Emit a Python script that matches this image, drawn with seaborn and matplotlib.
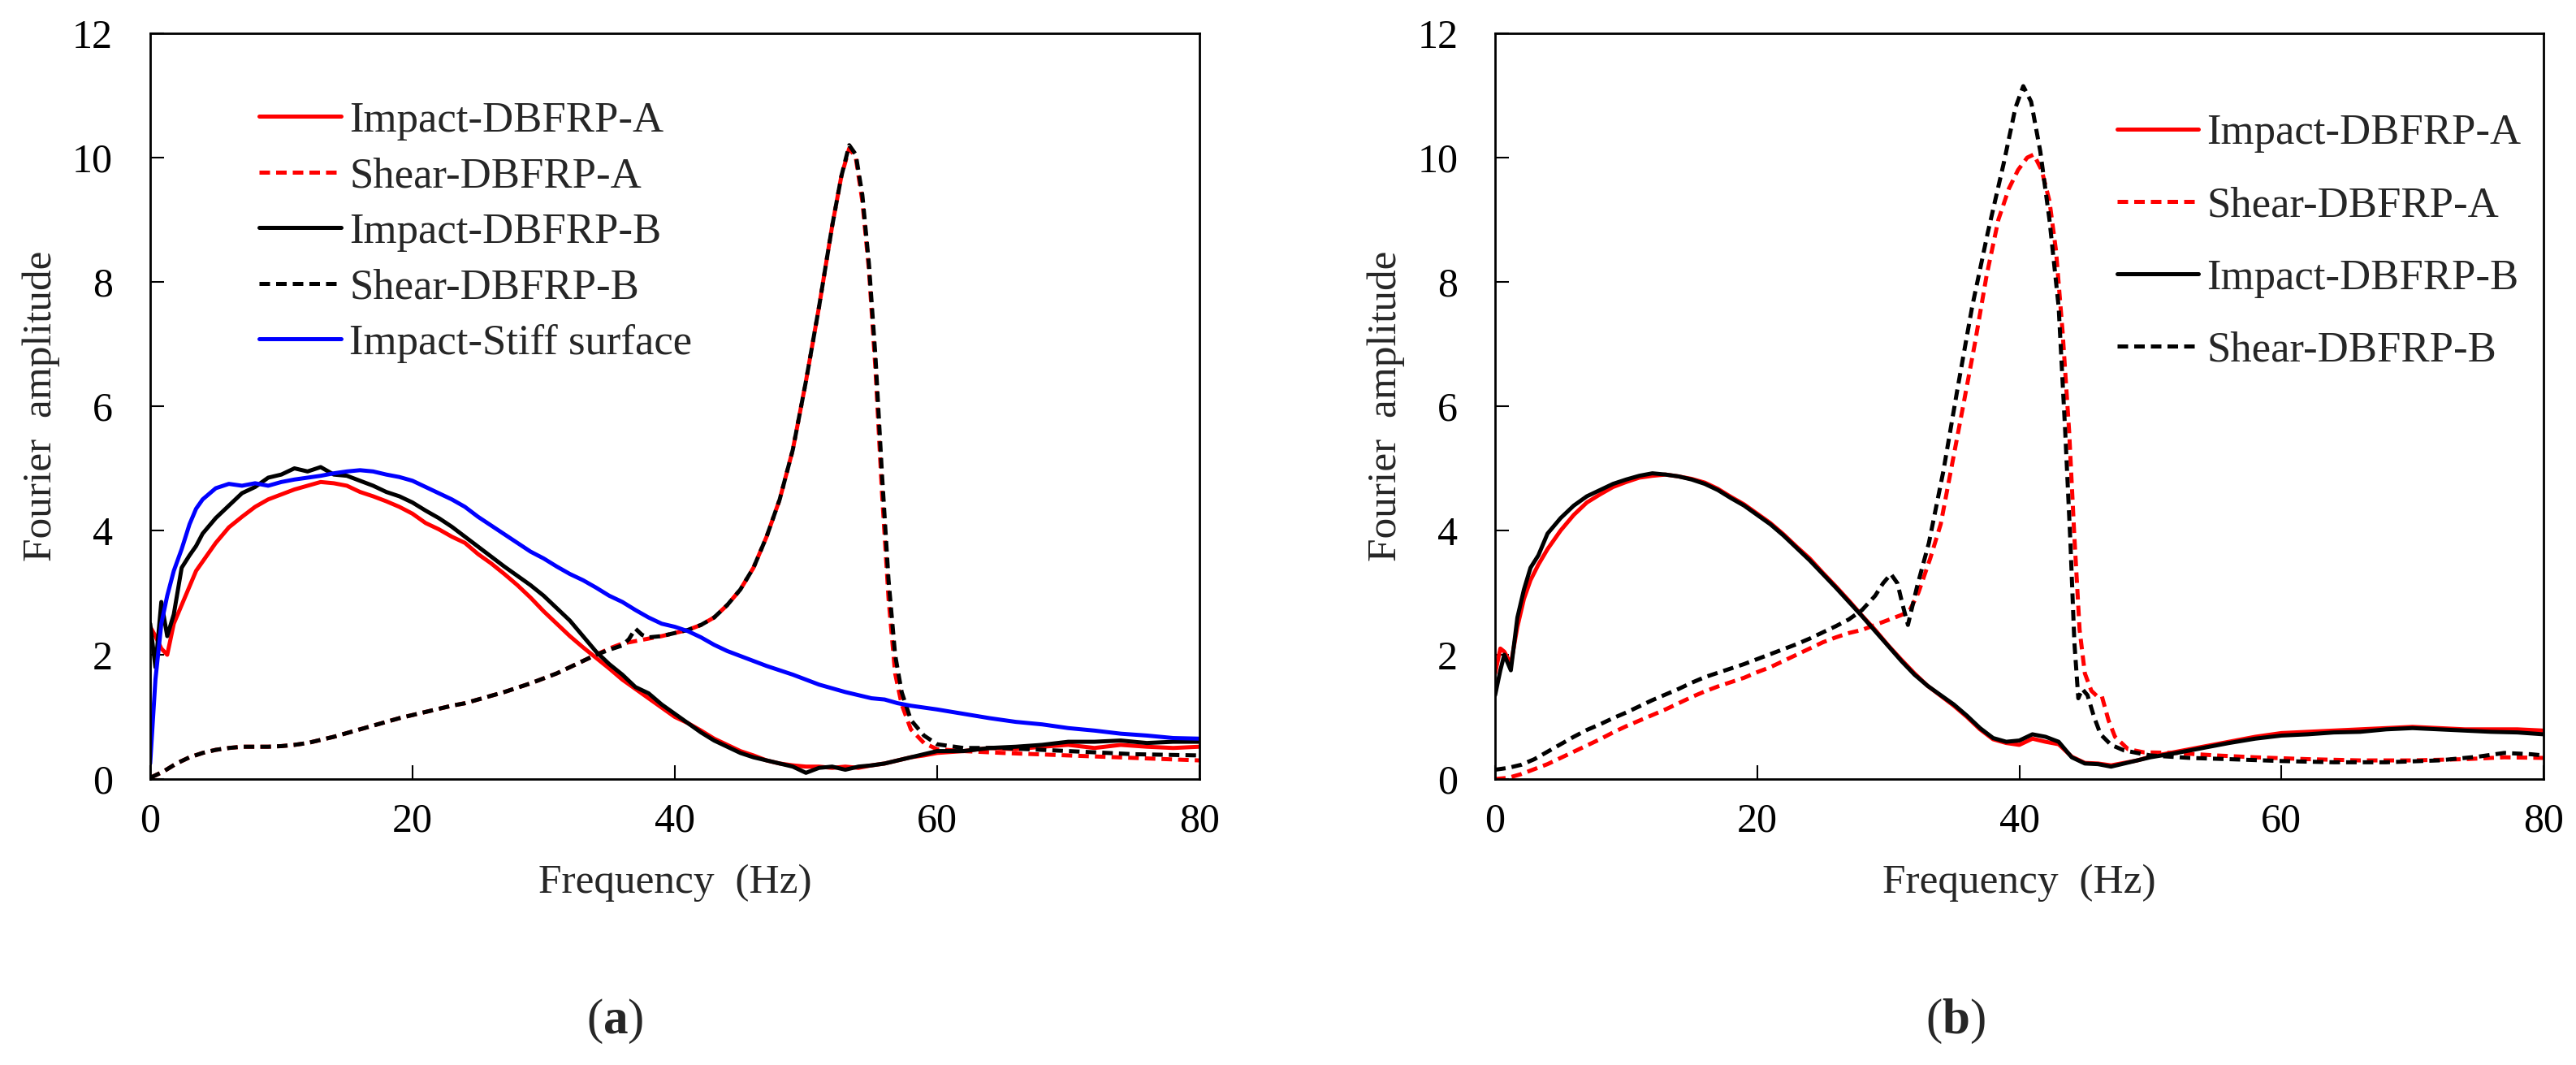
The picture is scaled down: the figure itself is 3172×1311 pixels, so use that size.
import numpy as np
import matplotlib
matplotlib.use("Agg")
import matplotlib.pyplot as plt
import seaborn as sns

#%% data (frequency in Hz, Fourier amplitude)

# panel (a) - impact curves share one frequency grid
fa_imp = [0, 0.4, 0.85, 1.3, 1.8, 2.4, 3, 3.5, 4, 5, 6, 7, 8, 9, 10, 11, 12, 13, 14, 15,
          16, 17, 18, 19, 20, 21, 22, 23, 24, 25, 26, 27, 28, 29, 30, 31, 32, 33, 34, 35,
          36, 37, 38, 39, 40, 41, 42, 43, 44, 45, 46, 47, 48, 49, 50, 51, 52, 53, 54, 55,
          56, 57, 58, 59, 60, 62, 64, 66, 68, 70, 72, 74, 76, 78, 80]
a_impact_A = [2.45, 2.3, 2.1, 2.0, 2.5, 2.8, 3.1, 3.35, 3.5, 3.8, 4.05, 4.22, 4.38, 4.5, 4.58, 4.66, 4.72, 4.78, 4.76, 4.72,
              4.62, 4.55, 4.47, 4.38, 4.27, 4.12, 4.02, 3.9, 3.8, 3.62, 3.47, 3.3, 3.12, 2.92, 2.7, 2.5, 2.3, 2.12, 1.95, 1.78,
              1.6, 1.45, 1.3, 1.15, 1.0, 0.9, 0.78, 0.65, 0.55, 0.45, 0.38, 0.3, 0.25, 0.22, 0.2, 0.2, 0.18, 0.2, 0.18, 0.22,
              0.25, 0.3, 0.35, 0.38, 0.42, 0.45, 0.5, 0.48, 0.52, 0.55, 0.5, 0.55, 0.52, 0.5, 0.52]
a_impact_B = [2.5, 1.8, 2.85, 2.3, 2.65, 3.4, 3.6, 3.75, 3.95, 4.2, 4.4, 4.6, 4.7, 4.85, 4.9, 5.0, 4.95, 5.02, 4.9, 4.88,
              4.8, 4.72, 4.62, 4.55, 4.45, 4.32, 4.2, 4.06, 3.9, 3.74, 3.58, 3.42, 3.27, 3.12, 2.95, 2.75, 2.55, 2.3, 2.05, 1.85,
              1.68, 1.48, 1.38, 1.2, 1.05, 0.9, 0.75, 0.62, 0.52, 0.42, 0.35, 0.3, 0.25, 0.2, 0.1, 0.18, 0.2, 0.15, 0.2, 0.22,
              0.25, 0.3, 0.35, 0.4, 0.45, 0.45, 0.5, 0.52, 0.55, 0.6, 0.6, 0.62, 0.58, 0.6, 0.6]
a_stiff = [0.25, 1.6, 2.5, 2.95, 3.35, 3.7, 4.1, 4.35, 4.5, 4.68, 4.75, 4.72, 4.76, 4.72, 4.78, 4.82, 4.85, 4.88, 4.92, 4.95,
           4.97, 4.95, 4.9, 4.86, 4.8, 4.7, 4.6, 4.5, 4.38, 4.22, 4.08, 3.94, 3.8, 3.66, 3.55, 3.42, 3.3, 3.2, 3.08, 2.95,
           2.85, 2.72, 2.6, 2.5, 2.45, 2.38, 2.28, 2.16, 2.06, 1.98, 1.9, 1.82, 1.75, 1.68, 1.6, 1.52, 1.46, 1.4, 1.35, 1.3,
           1.28, 1.22, 1.18, 1.15, 1.12, 1.05, 0.98, 0.92, 0.88, 0.82, 0.78, 0.73, 0.7, 0.66, 0.65]

# panel (a) - shear curves
fa_shear = [0, 1, 2, 3, 4, 5, 6, 7, 8, 9, 10, 11, 12, 13, 14, 15, 16, 17, 18, 19,
            20, 21, 22, 23, 24, 25, 26, 27, 28, 29, 30, 31, 32, 33, 34, 35, 36, 36.5, 37, 37.5,
            38, 39, 40, 41, 42, 43, 44, 45, 46, 47, 48, 49, 50, 51, 52, 52.7, 53.3, 53.8, 54.3, 54.8,
            55.3, 55.8, 56.3, 56.8, 57.3, 58, 59, 60, 62, 65, 70, 75, 80]
a_shear_A = [0.02, 0.12, 0.25, 0.35, 0.42, 0.47, 0.5, 0.52, 0.52, 0.52, 0.53, 0.55, 0.58, 0.63, 0.68, 0.74, 0.8, 0.86, 0.92, 0.98,
             1.03, 1.08, 1.13, 1.18, 1.22, 1.28, 1.34, 1.4, 1.47, 1.54, 1.62, 1.7, 1.8, 1.9, 2.0, 2.1, 2.18, 2.2, 2.22, 2.24,
             2.26, 2.3, 2.35, 2.4, 2.48, 2.6, 2.8, 3.05, 3.4, 3.9, 4.5, 5.3, 6.4, 7.6, 8.9, 9.7, 10.15, 10.0, 9.3, 8.2,
             6.6, 4.6, 2.9, 1.7, 1.2, 0.8, 0.58, 0.48, 0.45, 0.42, 0.38, 0.34, 0.3]
a_shear_B = [0.02, 0.12, 0.25, 0.35, 0.42, 0.47, 0.5, 0.52, 0.52, 0.52, 0.53, 0.55, 0.58, 0.63, 0.68, 0.74, 0.8, 0.86, 0.92, 0.98,
             1.03, 1.08, 1.13, 1.18, 1.22, 1.28, 1.34, 1.4, 1.47, 1.54, 1.62, 1.7, 1.8, 1.9, 2.0, 2.08, 2.15, 2.25, 2.42, 2.32,
             2.28, 2.3, 2.35, 2.4, 2.48, 2.6, 2.8, 3.05, 3.4, 3.9, 4.5, 5.3, 6.4, 7.6, 8.9, 9.7, 10.2, 10.05, 9.4, 8.3,
             6.8, 4.9, 3.2, 2.0, 1.4, 0.95, 0.7, 0.56, 0.5, 0.5, 0.45, 0.4, 0.38]

# panel (b) - impact curves
fb_imp = [0, 0.4, 0.7, 1.2, 1.7, 2.2, 2.7, 3.3, 4, 5, 6, 7, 8, 9, 10, 11, 12, 13, 14, 15,
          16, 17, 18, 19, 20, 21, 22, 23, 24, 25, 26, 27, 28, 29, 30, 31, 32, 33, 34, 35,
          36, 37, 38, 39, 40, 41, 42, 43, 44, 45, 46, 47, 48, 49, 50, 52, 54, 56, 58, 60,
          62, 64, 66, 68, 70, 72, 74, 76, 78, 80]
b_impact_A = [1.7, 2.1, 2.05, 1.85, 2.45, 2.9, 3.2, 3.45, 3.7, 4.0, 4.25, 4.45, 4.58, 4.7, 4.78, 4.85, 4.88, 4.9, 4.87, 4.83,
              4.77, 4.67, 4.54, 4.42, 4.27, 4.12, 3.94, 3.74, 3.55, 3.32, 3.1, 2.87, 2.63, 2.4, 2.15, 1.92, 1.7, 1.5, 1.34, 1.18,
              1.0, 0.8, 0.64, 0.58, 0.55, 0.65, 0.6, 0.56, 0.36, 0.26, 0.25, 0.22, 0.26, 0.3, 0.36, 0.44, 0.52, 0.6, 0.68, 0.74,
              0.76, 0.78, 0.8, 0.82, 0.84, 0.82, 0.8, 0.8, 0.8, 0.78]
b_impact_B = [1.35, 1.75, 2.0, 1.75, 2.6, 3.05, 3.4, 3.6, 3.95, 4.2, 4.4, 4.55, 4.65, 4.75, 4.82, 4.88, 4.92, 4.9, 4.87, 4.82,
              4.75, 4.65, 4.52, 4.4, 4.25, 4.1, 3.92, 3.72, 3.52, 3.3, 3.08, 2.85, 2.62, 2.38, 2.14, 1.9, 1.68, 1.5, 1.35, 1.2,
              1.02, 0.82, 0.66, 0.6, 0.62, 0.72, 0.68, 0.6, 0.35, 0.25, 0.24, 0.2, 0.25, 0.3, 0.35, 0.42, 0.5, 0.58, 0.65, 0.7,
              0.72, 0.75, 0.76, 0.8, 0.82, 0.8, 0.78, 0.76, 0.75, 0.72]

# panel (b) - shear curves
fb_shear_A = [0, 1, 2, 3, 4, 5, 6, 7, 8, 9, 10, 11, 12, 13, 14, 15, 16, 17, 18, 19,
              20, 21, 22, 23, 24, 25, 26, 27, 28, 29, 30, 31, 31.6, 32.3, 33.2, 34, 34.9, 35.8, 36.6, 37.5,
              38.4, 39.2, 39.9, 40.6, 41.1, 41.7, 42.3, 42.8, 43.3, 43.8, 44.2, 44.6, 45.0, 45.5, 46.0, 46.3, 46.8, 47.3, 48.3, 49.5,
              52, 55, 58, 62, 66, 70, 74, 77, 80]
b_shear_A = [0.0, 0.02, 0.08, 0.16, 0.24, 0.34, 0.44, 0.54, 0.64, 0.75, 0.85, 0.94, 1.03, 1.12, 1.22, 1.32, 1.41, 1.49, 1.56, 1.63,
             1.72, 1.8, 1.9, 2.0, 2.1, 2.2, 2.28, 2.35, 2.4, 2.48, 2.56, 2.64, 2.7, 3.0, 3.55, 4.1, 5.1, 6.1, 7.0, 8.1,
             9.0, 9.5, 9.8, 10.0, 10.05, 9.8, 9.3, 8.5, 7.2, 5.6, 3.9, 2.4, 1.7, 1.42, 1.32, 1.33, 0.95, 0.68, 0.48, 0.43,
             0.42, 0.38, 0.35, 0.32, 0.3, 0.3, 0.32, 0.35, 0.34]
fb_shear_B = [0, 1, 2, 3, 4, 5, 6, 7, 8, 9, 10, 11, 12, 13, 14, 15, 16, 17, 18, 19,
              20, 21, 22, 23, 24, 25, 26, 27, 28, 29, 29.6, 30.2, 30.7, 31.1, 31.5, 32.2, 33.1, 34.2, 35.3, 36.4,
              37.6, 38.8, 39.7, 40.3, 40.9, 41.6, 42.3, 43, 43.5, 43.9, 44.2, 44.5, 44.8, 45.2, 45.7, 46.2, 47, 48, 50, 53,
              56, 60, 64, 68, 72, 75, 77, 79, 80]
b_shear_B = [0.15, 0.18, 0.23, 0.32, 0.44, 0.56, 0.68, 0.79, 0.88, 0.98, 1.07, 1.17, 1.27, 1.36, 1.45, 1.55, 1.64, 1.71, 1.78, 1.85,
             1.93, 2.01, 2.09, 2.17, 2.26, 2.36, 2.46, 2.57, 2.72, 2.95, 3.15, 3.3, 3.15, 2.8, 2.48, 3.1, 3.8, 4.95, 6.3, 7.6,
             8.8, 9.9, 10.8, 11.15, 10.9, 10.1, 9.0, 7.6, 5.6, 3.8, 2.2, 1.3, 1.45, 1.35, 1.0, 0.72, 0.55, 0.46, 0.38, 0.34,
             0.32, 0.29, 0.27, 0.27, 0.3, 0.36, 0.42, 0.4, 0.38]

labels = ["Impact-DBFRP-A", "Shear-DBFRP-A", "Impact-DBFRP-B", "Shear-DBFRP-B", "Impact-Stiff surface"]

#%% style
sns.set_style("ticks")
plt.rcParams['font.family'] = ['Liberation Serif', 'DejaVu Serif']
plt.rcParams['mathtext.fontset'] = 'custom'
plt.rcParams['mathtext.rm'] = 'Liberation Serif'
plt.rcParams['mathtext.bf'] = 'Liberation Serif:bold'

RED, BLACK, BLUE = '#FF0000', '#000000', '#0000FF'
LW = 3.6
DASH = (0, (2.6, 1.5))

fig = plt.figure(figsize=(31.72, 13.11), dpi=100)
ax1 = fig.add_axes([0.0583, 0.2685, 0.4073, 0.7002])
ax2 = fig.add_axes([0.5804, 0.2685, 0.4070, 0.7002])


def draw(ax, x, y, color, ls, label):
    sns.lineplot(x=x, y=y, ax=ax, color=color, linestyle=ls, linewidth=LW,
                 label=label, estimator=None, sort=False)


# (a)
draw(ax1, fa_imp, a_impact_A, RED, '-', labels[0])
draw(ax1, fa_shear, a_shear_A, RED, DASH, labels[1])
draw(ax1, fa_imp, a_impact_B, BLACK, '-', labels[2])
draw(ax1, fa_shear, a_shear_B, BLACK, DASH, labels[3])
draw(ax1, fa_imp, a_stiff, BLUE, '-', labels[4])

# (b)
draw(ax2, fb_imp, b_impact_A, RED, '-', labels[0])
draw(ax2, fb_shear_A, b_shear_A, RED, DASH, labels[1])
draw(ax2, fb_imp, b_impact_B, BLACK, '-', labels[2])
draw(ax2, fb_shear_B, b_shear_B, BLACK, DASH, labels[3])

for ax in (ax1, ax2):
    ax.set_xlim(0, 80)
    ax.set_ylim(0, 12)
    ax.set_xticks([0, 20, 40, 60, 80])
    ax.set_yticks([0, 2, 4, 6, 8, 10, 12])
    ax.tick_params(axis='both', direction='in', length=12, width=1.5, labelsize=36, colors='black')
    ax.tick_params(axis='x', pad=21)
    ax.tick_params(axis='y', pad=33)
    for s in ax.spines.values():
        s.set_visible(True)
        s.set_linewidth(2.0)
        s.set_color('black')
    ax.set_xlabel("Frequency  (Hz)", fontsize=37)
    ax.set_ylabel("Fourier  amplitude", fontsize=37)
    ax.xaxis.set_label_coords(0.5, -0.114)
    ax.yaxis.set_label_coords(-0.086, 0.5)

ax1.legend(loc='upper left', bbox_to_anchor=(0.104, 0.909), frameon=False, fontsize=38,
           borderpad=0, borderaxespad=0, handlelength=1.9, handletextpad=0.2, labelspacing=0.39)
ax2.legend(loc='upper left', bbox_to_anchor=(0.593, 0.892), frameon=False, fontsize=38,
           borderpad=0, borderaxespad=0, handlelength=1.9, handletextpad=0.2, labelspacing=0.78)

fig.text(0.2387, 0.041, r'($\mathbf{a}$)', fontsize=44, ha='center', va='center')
fig.text(0.7592, 0.041, r'($\mathbf{b}$)', fontsize=44, ha='center', va='center')

fig.savefig("out.png", dpi=100)
